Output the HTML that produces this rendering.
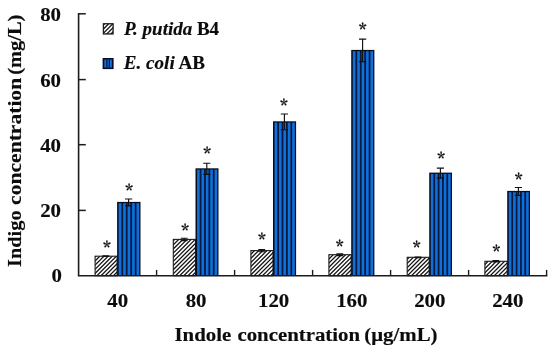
<!DOCTYPE html>
<html><head><meta charset="utf-8"><title>chart</title>
<style>
html,body{margin:0;padding:0;background:#fff;}
svg{display:block}
text{font-family:"Liberation Serif","Times New Roman",serif;font-weight:bold;fill:#0c0c0c;stroke:#0c0c0c;stroke-width:0.15px;}
</style></head><body>
<svg width="550" height="352" viewBox="0 0 550 352">
<rect width="550" height="352" fill="#fff"/>

<clipPath id="c1"><rect x="95.10" y="256.20" width="22.00" height="19.50"/></clipPath>
<rect x="95.10" y="256.20" width="22.00" height="19.50" fill="#fff"/>
<path clip-path="url(#c1)" d="M94.10 253.66L118.10 229.66M94.10 257.80L118.10 233.80M94.10 261.94L118.10 237.94M94.10 266.08L118.10 242.08M94.10 270.22L118.10 246.22M94.10 274.36L118.10 250.36M94.10 278.50L118.10 254.50M94.10 282.64L118.10 258.64M94.10 286.78L118.10 262.78M94.10 290.92L118.10 266.92M94.10 295.06L118.10 271.06M94.10 299.20L118.10 275.20" stroke="#161616" stroke-width="1.3" fill="none"/>
<rect x="95.10" y="256.20" width="22.00" height="19.50" fill="none" stroke="#1c1c1c" stroke-width="1.1"/>
<rect x="117.10" y="201.90" width="23.40" height="73.80" fill="#0a0f1c"/>
<rect x="118.70" y="203.20" width="20.50" height="72.50" fill="#07183f"/>
<rect x="118.70" y="203.20" width="2.70" height="72.50" fill="#0f70d9"/>
<rect x="123.15" y="203.20" width="2.70" height="72.50" fill="#0f70d9"/>
<rect x="127.60" y="203.20" width="2.70" height="72.50" fill="#0f70d9"/>
<rect x="132.05" y="203.20" width="2.70" height="72.50" fill="#0f70d9"/>
<rect x="136.50" y="203.20" width="2.70" height="72.50" fill="#0f70d9"/>
<path d="M105.8 255.9V256.5M102.4 255.9H109.2M102.4 256.5H109.2" stroke="#111" stroke-width="1.15" fill="none"/>
<path d="M128.6 199.0V205.8M125.0 199.0H132.2M125.0 205.8H132.2" stroke="#111" stroke-width="1.15" fill="none"/>
<clipPath id="c2"><rect x="173.30" y="239.40" width="22.20" height="36.30"/></clipPath>
<rect x="173.30" y="239.40" width="22.20" height="36.30" fill="#fff"/>
<path clip-path="url(#c2)" d="M172.30 237.56L196.50 213.36M172.30 241.70L196.50 217.50M172.30 245.84L196.50 221.64M172.30 249.98L196.50 225.78M172.30 254.12L196.50 229.92M172.30 258.26L196.50 234.06M172.30 262.40L196.50 238.20M172.30 266.54L196.50 242.34M172.30 270.68L196.50 246.48M172.30 274.82L196.50 250.62M172.30 278.96L196.50 254.76M172.30 283.10L196.50 258.90M172.30 287.24L196.50 263.04M172.30 291.38L196.50 267.18M172.30 295.52L196.50 271.32M172.30 299.66L196.50 275.46" stroke="#161616" stroke-width="1.3" fill="none"/>
<rect x="173.30" y="239.40" width="22.20" height="36.30" fill="none" stroke="#1c1c1c" stroke-width="1.1"/>
<rect x="195.50" y="168.30" width="23.00" height="107.40" fill="#0a0f1c"/>
<rect x="197.10" y="169.60" width="20.10" height="106.10" fill="#07183f"/>
<rect x="197.10" y="169.60" width="2.62" height="106.10" fill="#0f70d9"/>
<rect x="201.47" y="169.60" width="2.62" height="106.10" fill="#0f70d9"/>
<rect x="205.84" y="169.60" width="2.62" height="106.10" fill="#0f70d9"/>
<rect x="210.21" y="169.60" width="2.62" height="106.10" fill="#0f70d9"/>
<rect x="214.58" y="169.60" width="2.62" height="106.10" fill="#0f70d9"/>
<path d="M184.2 238.2V240.6M180.8 238.2H187.6M180.8 240.6H187.6" stroke="#111" stroke-width="1.15" fill="none"/>
<path d="M206.8 163.2V174.4M203.2 163.2H210.4M203.2 174.4H210.4" stroke="#111" stroke-width="1.15" fill="none"/>
<clipPath id="c3"><rect x="250.90" y="250.60" width="22.10" height="25.10"/></clipPath>
<rect x="250.90" y="250.60" width="22.10" height="25.10" fill="#fff"/>
<path clip-path="url(#c3)" d="M249.90 251.04L274.00 226.94M249.90 255.18L274.00 231.08M249.90 259.32L274.00 235.22M249.90 263.46L274.00 239.36M249.90 267.60L274.00 243.50M249.90 271.74L274.00 247.64M249.90 275.88L274.00 251.78M249.90 280.02L274.00 255.92M249.90 284.16L274.00 260.06M249.90 288.30L274.00 264.20M249.90 292.44L274.00 268.34M249.90 296.58L274.00 272.48M249.90 300.72L274.00 276.62" stroke="#161616" stroke-width="1.3" fill="none"/>
<rect x="250.90" y="250.60" width="22.10" height="25.10" fill="none" stroke="#1c1c1c" stroke-width="1.1"/>
<rect x="273.00" y="121.30" width="23.10" height="154.40" fill="#0a0f1c"/>
<rect x="274.60" y="122.60" width="20.20" height="153.10" fill="#07183f"/>
<rect x="274.60" y="122.60" width="2.64" height="153.10" fill="#0f70d9"/>
<rect x="278.99" y="122.60" width="2.64" height="153.10" fill="#0f70d9"/>
<rect x="283.38" y="122.60" width="2.64" height="153.10" fill="#0f70d9"/>
<rect x="287.77" y="122.60" width="2.64" height="153.10" fill="#0f70d9"/>
<rect x="292.16" y="122.60" width="2.64" height="153.10" fill="#0f70d9"/>
<path d="M261.7 249.5V251.7M258.3 249.5H265.1M258.3 251.7H265.1" stroke="#111" stroke-width="1.15" fill="none"/>
<path d="M284.4 114.0V129.7M280.8 114.0H288.0M280.8 129.7H288.0" stroke="#111" stroke-width="1.15" fill="none"/>
<clipPath id="c4"><rect x="328.90" y="254.70" width="22.30" height="21.00"/></clipPath>
<rect x="328.90" y="254.70" width="22.30" height="21.00" fill="#fff"/>
<path clip-path="url(#c4)" d="M327.90 251.70L352.20 227.40M327.90 255.84L352.20 231.54M327.90 259.98L352.20 235.68M327.90 264.12L352.20 239.82M327.90 268.26L352.20 243.96M327.90 272.40L352.20 248.10M327.90 276.54L352.20 252.24M327.90 280.68L352.20 256.38M327.90 284.82L352.20 260.52M327.90 288.96L352.20 264.66M327.90 293.10L352.20 268.80M327.90 297.24L352.20 272.94M327.90 301.38L352.20 277.08" stroke="#161616" stroke-width="1.3" fill="none"/>
<rect x="328.90" y="254.70" width="22.30" height="21.00" fill="none" stroke="#1c1c1c" stroke-width="1.1"/>
<rect x="351.20" y="49.90" width="23.20" height="225.80" fill="#0a0f1c"/>
<rect x="352.80" y="51.20" width="20.30" height="224.50" fill="#07183f"/>
<rect x="352.80" y="51.20" width="2.66" height="224.50" fill="#0f70d9"/>
<rect x="357.21" y="51.20" width="2.66" height="224.50" fill="#0f70d9"/>
<rect x="361.62" y="51.20" width="2.66" height="224.50" fill="#0f70d9"/>
<rect x="366.03" y="51.20" width="2.66" height="224.50" fill="#0f70d9"/>
<rect x="370.44" y="51.20" width="2.66" height="224.50" fill="#0f70d9"/>
<path d="M339.8 253.8V255.6M336.4 253.8H343.2M336.4 255.6H343.2" stroke="#111" stroke-width="1.15" fill="none"/>
<path d="M362.6 39.1V61.7M359.0 39.1H366.2M359.0 61.7H366.2" stroke="#111" stroke-width="1.15" fill="none"/>
<clipPath id="c5"><rect x="407.20" y="257.30" width="22.00" height="18.40"/></clipPath>
<rect x="407.20" y="257.30" width="22.00" height="18.40" fill="#fff"/>
<path clip-path="url(#c5)" d="M406.20 256.20L430.20 232.20M406.20 260.34L430.20 236.34M406.20 264.48L430.20 240.48M406.20 268.62L430.20 244.62M406.20 272.76L430.20 248.76M406.20 276.90L430.20 252.90M406.20 281.04L430.20 257.04M406.20 285.18L430.20 261.18M406.20 289.32L430.20 265.32M406.20 293.46L430.20 269.46M406.20 297.60L430.20 273.60M406.20 301.74L430.20 277.74" stroke="#161616" stroke-width="1.3" fill="none"/>
<rect x="407.20" y="257.30" width="22.00" height="18.40" fill="none" stroke="#1c1c1c" stroke-width="1.1"/>
<rect x="429.20" y="172.60" width="22.80" height="103.10" fill="#0a0f1c"/>
<rect x="430.80" y="173.90" width="19.90" height="101.80" fill="#07183f"/>
<rect x="430.80" y="173.90" width="2.58" height="101.80" fill="#0f70d9"/>
<rect x="435.13" y="173.90" width="2.58" height="101.80" fill="#0f70d9"/>
<rect x="439.46" y="173.90" width="2.58" height="101.80" fill="#0f70d9"/>
<rect x="443.79" y="173.90" width="2.58" height="101.80" fill="#0f70d9"/>
<rect x="448.12" y="173.90" width="2.58" height="101.80" fill="#0f70d9"/>
<path d="M417.9 257.0V257.6M414.6 257.0H421.3M414.6 257.6H421.3" stroke="#111" stroke-width="1.15" fill="none"/>
<path d="M440.4 168.1V178.1M436.8 168.1H444.0M436.8 178.1H444.0" stroke="#111" stroke-width="1.15" fill="none"/>
<clipPath id="c6"><rect x="484.90" y="261.30" width="22.30" height="14.40"/></clipPath>
<rect x="484.90" y="261.30" width="22.30" height="14.40" fill="#fff"/>
<path clip-path="url(#c6)" d="M483.90 261.30L508.20 237.00M483.90 265.44L508.20 241.14M483.90 269.58L508.20 245.28M483.90 273.72L508.20 249.42M483.90 277.86L508.20 253.56M483.90 282.00L508.20 257.70M483.90 286.14L508.20 261.84M483.90 290.28L508.20 265.98M483.90 294.42L508.20 270.12M483.90 298.56L508.20 274.26M483.90 302.70L508.20 278.40" stroke="#161616" stroke-width="1.3" fill="none"/>
<rect x="484.90" y="261.30" width="22.30" height="14.40" fill="none" stroke="#1c1c1c" stroke-width="1.1"/>
<rect x="507.20" y="190.90" width="22.80" height="84.80" fill="#0a0f1c"/>
<rect x="508.80" y="192.20" width="19.90" height="83.50" fill="#07183f"/>
<rect x="508.80" y="192.20" width="2.58" height="83.50" fill="#0f70d9"/>
<rect x="513.13" y="192.20" width="2.58" height="83.50" fill="#0f70d9"/>
<rect x="517.46" y="192.20" width="2.58" height="83.50" fill="#0f70d9"/>
<rect x="521.79" y="192.20" width="2.58" height="83.50" fill="#0f70d9"/>
<rect x="526.12" y="192.20" width="2.58" height="83.50" fill="#0f70d9"/>
<path d="M495.8 260.6V262.0M492.4 260.6H499.2M492.4 262.0H499.2" stroke="#111" stroke-width="1.15" fill="none"/>
<path d="M518.4 187.5V195.3M514.8 187.5H522.0M514.8 195.3H522.0" stroke="#111" stroke-width="1.15" fill="none"/>
<path d="M78.6 12.95V275.7H547.3" stroke="#1c1c1c" stroke-width="1.6" fill="none"/>
<path d="M78.6 210.4h7.2" stroke="#1c1c1c" stroke-width="1.5"/>
<path d="M78.6 144.7h7.2" stroke="#1c1c1c" stroke-width="1.5"/>
<path d="M78.6 79.6h7.2" stroke="#1c1c1c" stroke-width="1.5"/>
<path d="M78.6 13.8h7.2" stroke="#1c1c1c" stroke-width="1.5"/>
<path d="M156.6 275.7v-5.8" stroke="#1c1c1c" stroke-width="1.4"/>
<path d="M234.6 275.7v-5.8" stroke="#1c1c1c" stroke-width="1.4"/>
<path d="M312.6 275.7v-5.8" stroke="#1c1c1c" stroke-width="1.4"/>
<path d="M390.6 275.7v-5.8" stroke="#1c1c1c" stroke-width="1.4"/>
<path d="M468.6 275.7v-5.8" stroke="#1c1c1c" stroke-width="1.4"/>
<path d="M546.6 275.7v-5.8" stroke="#1c1c1c" stroke-width="1.4"/>
<text transform="translate(61.0,217.3) scale(1.075,1)" font-size="19.4" text-anchor="end">20</text>
<text transform="translate(61.0,151.6) scale(1.075,1)" font-size="19.4" text-anchor="end">40</text>
<text transform="translate(61.0,86.5) scale(1.075,1)" font-size="19.4" text-anchor="end">60</text>
<text transform="translate(61.0,20.6) scale(1.075,1)" font-size="19.4" text-anchor="end">80</text>
<text transform="translate(61.9,281.6) scale(1.075,1)" font-size="19.4" text-anchor="end">0</text>
<text transform="translate(117.7,307.3) scale(1.075,1)" font-size="19.4" text-anchor="middle">40</text>
<text transform="translate(196.1,307.3) scale(1.075,1)" font-size="19.4" text-anchor="middle">80</text>
<text transform="translate(273.6,307.3) scale(1.075,1)" font-size="19.4" text-anchor="middle">120</text>
<text transform="translate(351.8,307.3) scale(1.075,1)" font-size="19.4" text-anchor="middle">160</text>
<text transform="translate(429.8,307.3) scale(1.075,1)" font-size="19.4" text-anchor="middle">200</text>
<text transform="translate(507.8,307.3) scale(1.075,1)" font-size="19.4" text-anchor="middle">240</text>
<text transform="translate(306.0,340.7) scale(1.075,1)" font-size="19.4" text-anchor="middle">Indole <tspan dx="0.9">concentration</tspan> <tspan dx="-0.9">(μg/mL)</tspan></text>
<text transform="translate(21.3,266.9) rotate(-90) scale(1.047,1)" font-size="19.4" text-anchor="start">Indigo</text>
<text transform="translate(21.3,204.9) rotate(-90) scale(1.113,1)" font-size="19.4" text-anchor="start">concentration</text>
<text transform="translate(21.3,74.7) rotate(-90) scale(1.052,1)" font-size="19.4" text-anchor="start">(mg/L)</text>
<clipPath id="c7"><rect x="103.40" y="23.75" width="9.70" height="10.20"/></clipPath>
<rect x="103.40" y="23.75" width="9.70" height="10.20" fill="#fff"/>
<path clip-path="url(#c7)" d="M102.40 21.80L114.10 10.10M102.40 25.94L114.10 14.24M102.40 30.08L114.10 18.38M102.40 34.22L114.10 22.52M102.40 38.36L114.10 26.66M102.40 42.50L114.10 30.80M102.40 46.64L114.10 34.94" stroke="#161616" stroke-width="1.3" fill="none"/>
<rect x="103.40" y="23.75" width="9.70" height="10.20" fill="none" stroke="#1c1c1c" stroke-width="1.3"/>
<rect x="102.6" y="58.0" width="11.0" height="11.1" fill="#050d28"/>
<rect x="104.3" y="59.6" width="7.6" height="7.9" fill="#0f70d9"/>
<rect x="106.19999999999999" y="59.6" width="1.3" height="7.9" fill="#07183f"/>
<rect x="108.69999999999999" y="59.6" width="1.3" height="7.9" fill="#07183f"/>
<text transform="translate(123.9,34.9) scale(1.068,1)" font-size="17.8" text-anchor="start"><tspan font-style="italic">P. putida</tspan> B4</text>
<text transform="translate(123.8,69.2) scale(1.073,1)" font-size="17.8" text-anchor="start"><tspan font-style="italic">E. coli</tspan> AB</text>
<text transform="translate(106.8,254.0) scale(1.0,1)" font-size="16.0" text-anchor="middle" style="font-family:'Noto Serif CJK SC','Liberation Sans',sans-serif;stroke-width:0.2px">*</text>
<text transform="translate(185.1,237.0) scale(1.0,1)" font-size="16.0" text-anchor="middle" style="font-family:'Noto Serif CJK SC','Liberation Sans',sans-serif;stroke-width:0.2px">*</text>
<text transform="translate(261.8,246.0) scale(1.0,1)" font-size="16.0" text-anchor="middle" style="font-family:'Noto Serif CJK SC','Liberation Sans',sans-serif;stroke-width:0.2px">*</text>
<text transform="translate(339.7,253.0) scale(1.0,1)" font-size="16.0" text-anchor="middle" style="font-family:'Noto Serif CJK SC','Liberation Sans',sans-serif;stroke-width:0.2px">*</text>
<text transform="translate(416.5,254.0) scale(1.0,1)" font-size="16.0" text-anchor="middle" style="font-family:'Noto Serif CJK SC','Liberation Sans',sans-serif;stroke-width:0.2px">*</text>
<text transform="translate(496.3,258.0) scale(1.0,1)" font-size="16.0" text-anchor="middle" style="font-family:'Noto Serif CJK SC','Liberation Sans',sans-serif;stroke-width:0.2px">*</text>
<text transform="translate(129.1,197.0) scale(1.0,1)" font-size="16.0" text-anchor="middle" style="font-family:'Noto Serif CJK SC','Liberation Sans',sans-serif;stroke-width:0.2px">*</text>
<text transform="translate(207.1,160.0) scale(1.0,1)" font-size="16.0" text-anchor="middle" style="font-family:'Noto Serif CJK SC','Liberation Sans',sans-serif;stroke-width:0.2px">*</text>
<text transform="translate(283.8,112.0) scale(1.0,1)" font-size="16.0" text-anchor="middle" style="font-family:'Noto Serif CJK SC','Liberation Sans',sans-serif;stroke-width:0.2px">*</text>
<text transform="translate(362.6,36.0) scale(1.0,1)" font-size="16.0" text-anchor="middle" style="font-family:'Noto Serif CJK SC','Liberation Sans',sans-serif;stroke-width:0.2px">*</text>
<text transform="translate(441.1,165.0) scale(1.0,1)" font-size="16.0" text-anchor="middle" style="font-family:'Noto Serif CJK SC','Liberation Sans',sans-serif;stroke-width:0.2px">*</text>
<text transform="translate(518.7,186.0) scale(1.0,1)" font-size="16.0" text-anchor="middle" style="font-family:'Noto Serif CJK SC','Liberation Sans',sans-serif;stroke-width:0.2px">*</text>
</svg></body></html>
